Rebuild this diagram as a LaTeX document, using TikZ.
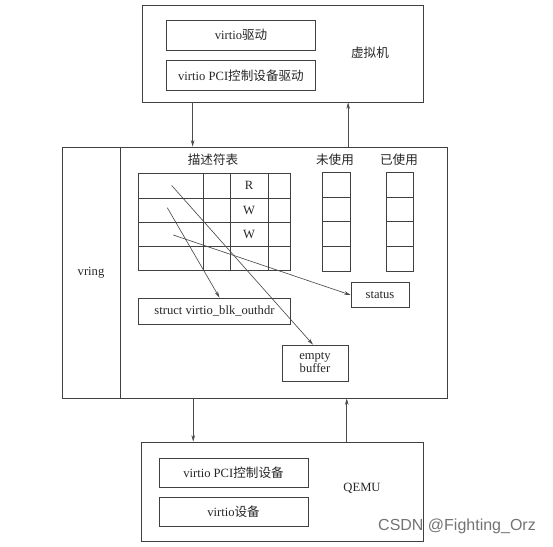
\documentclass[tikz,border=0pt]{standalone}
\usepackage{fontspec}
\setmainfont{Liberation Serif}
\setsansfont{Liberation Sans}
\newfontfamily\cjk{Noto Sans CJK SC}
\usetikzlibrary{calc}
\usetikzlibrary{arrows, arrows.meta, positioning}

\begin{document}
\begin{tikzpicture}[x=1pt, y=-1pt, >={Stealth[length=6.5pt, width=3.6pt]},
			line width=0.75pt,
			every node/.style={font=\fontsize{12.6}{13.5}\selectfont, text=black!85},
			frame/.style={draw=black!75, rectangle, inner sep=0pt},
			part/.style={draw=black!75, rectangle, inner sep=0pt, minimum width=149pt, minimum height=29.5pt},
			cell/.style={draw=black!75},
			link/.style={->, draw=black!70, line width=0.65pt}]
			
			\useasboundingbox (0,0) rectangle (553,546);
			
			% Drawing the virtual machine
			\node[frame, minimum width=281pt, minimum height=97pt] (vm) at (282.5,53.5) {};
			\node[part] (drv1) at (241,35.3) {virtio{\cjk 驱动}};
			\node[part] (drv2) at (241,75.3) {virtio PCI{\cjk 控制设备驱动}};
			\node (vmlabel) at (370,53) {\cjk 虚拟机};
			
			% Drawing the vring
			\node[frame, minimum width=385pt, minimum height=251pt] (vring) at (254.5,272.5) {};
			\draw[cell] (120,0 |- vring.north) -- (120,0 |- vring.south);
			\node (vringlabel) at (91,273) {vring};
			
			% Descriptor table
			\node (desclabel) at (213,160) {\cjk 描述符表};
			\draw[cell] (138,173) rectangle (290,270);
			\draw[cell] (138,198) -- (290,198);
			\draw[cell] (138,222) -- (290,222);
			\draw[cell] (138,246) -- (290,246);
			\draw[cell] (203,173) -- (203,270);
			\draw[cell] (230,173) -- (230,270);
			\draw[cell] (268,173) -- (268,270);
			\node (r1) at (249,185.5) {R};
			\node (w2) at (249,210) {W};
			\node (w3) at (249,234) {W};
			
			% Available and used rings
			\node (availlabel) at (335,160) {\cjk 未使用};
			\draw[cell] (322,172) rectangle (350,271);
			\draw[cell] (322,197) -- (350,197);
			\draw[cell] (322,221) -- (350,221);
			\draw[cell] (322,246) -- (350,246);
			\node (usedlabel) at (399,160) {\cjk 已使用};
			\draw[cell] (386,172) rectangle (413,271);
			\draw[cell] (386,197) -- (413,197);
			\draw[cell] (386,221) -- (413,221);
			\draw[cell] (386,246) -- (413,246);
			
			% Buffers
			\node[frame, minimum width=58pt, minimum height=25.5pt] (status) at (380,295) {status};
			\node[frame, minimum width=152.5pt, minimum height=26pt] (outhdr) at (214.5,311) {struct virtio\_blk\_outhdr};
			\node[frame, minimum width=66pt, minimum height=36pt, align=center, font=\fontsize{12.6}{13}\selectfont] (buf) at (315,363) {empty\\buffer};
			
			% Connecting descriptors to buffers
			\coordinate (d1) at (171.7,185.5);
			\coordinate (d2) at (167.3,207.7);
			\coordinate (d3) at (173.3,235);
			\draw[link] (d1) -- ($(buf.north)+(-2,0)$);
			\draw[link] (d2) -- ($(outhdr.north)+(5,0)$);
			\draw[link] (d3) -- (status.west);
			
			% Drawing QEMU
			\node[frame, minimum width=282pt, minimum height=99pt] (qemu) at (282,491.5) {};
			\node[part] (dev1) at (233.5,473) {virtio PCI{\cjk 控制设备}};
			\node[part] (dev2) at (233.5,512) {virtio{\cjk 设备}};
			\node (qemulabel) at (362,488) {QEMU};
			
			% Connecting the layers
			\coordinate (vmdown) at ($(vm.south west)!0.181!(vm.south east)$);
			\coordinate (vmup) at ($(vm.south west)!0.733!(vm.south east)$);
			\draw[link] (vmdown) -- (vmdown |- vring.north);
			\draw[link] (vmup |- vring.north) -- (vmup);
			\coordinate (qdown) at ($(qemu.north west)!0.186!(qemu.north east)$);
			\coordinate (qup) at ($(qemu.north west)!0.729!(qemu.north east)$);
			\draw[link] (qdown |- vring.south) -- (qdown);
			\draw[link] (qup) -- (qup |- vring.south);
			
			% Watermark
			\node[font=\sffamily\fontsize{16}{17}\selectfont, text=black!55] (mark) at (457,526) {CSDN @Fighting\_Orz};
		\end{tikzpicture}
\end{document}
